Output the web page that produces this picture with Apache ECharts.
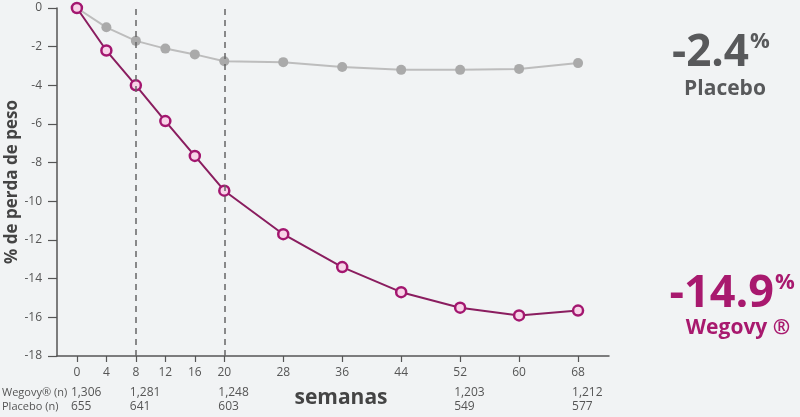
<!DOCTYPE html>
<html>
<head>
<meta charset="utf-8">
<script src="https://cdn.jsdelivr.net/npm/echarts@6/dist/echarts.min.js"></script>
<style>
html,body{margin:0;padding:0;background:#f1f3f4;}
#c{width:800px;height:417px;}
</style>
</head>
<body>
<div id="c"></div>
<script>
var weeks = [0, 4, 8, 12, 16, 20, 28, 36, 44, 52, 60, 68];
var wegovy = [0, -2.2, -4.0, -5.85, -7.65, -9.45, -11.7, -13.4, -14.7, -15.5, -15.9, -15.65];
var placebo = [0, -1.0, -1.7, -2.1, -2.4, -2.75, -2.8, -3.05, -3.2, -3.2, -3.15, -2.85];
var dashedWeeks = [8, 20];
var nWeeks = [0, 8, 20, 52, 68];
var nWegovy = ['1,306', '1,281', '1,248', '1,203', '1,212'];
var nPlacebo = ['655', '641', '603', '549', '577'];
var rowLabels = ['Wegovy® (n)', 'Placebo (n)'];
var yTitle = '% de perda de peso';
var xTitle = 'semanas';
var finalPlacebo = '-2.4';
var finalWegovy = '-14.9';

var FONT = '"Open Sans", sans-serif';
var chart = echarts.init(document.getElementById('c'));

function pairs(ys) { return weeks.map(function (w, i) { return [w, ys[i]]; }); }

var option = {
  backgroundColor: '#f1f3f4',
  animation: false,
  grid: { left: 57, right: 191, top: 8, bottom: 61, containLabel: false, outerBoundsMode: 'none' },
  xAxis: {
    type: 'value', min: -2.7, max: 72.2,
    axisLine: { show: true, onZero: false, lineStyle: { color: '#555', width: 1.5 } },
    axisTick: { show: true, length: 6, lineStyle: { color: '#555', width: 1.2 }, customValues: weeks },
    axisLabel: { color: '#555', fontSize: 12, fontFamily: FONT, margin: 11, customValues: weeks },
    splitLine: { show: false }
  },
  yAxis: {
    type: 'value', min: -18, max: 0, interval: 2,
    axisLine: { show: true, onZero: false, lineStyle: { color: '#555', width: 1.5 } },
    axisTick: { show: true, length: 9, lineStyle: { color: '#555', width: 1.2 } },
    axisLabel: { color: '#555', fontSize: 12, fontFamily: FONT, margin: 15 },
    splitLine: { show: false }
  },
  series: [
    {
      name: 'Placebo', type: 'line', data: pairs(placebo),
      symbol: 'circle', symbolSize: 10,
      lineStyle: { color: '#bdbdbd', width: 2 },
      itemStyle: { color: '#aaaaaa' },
      z: 3,
      markLine: {
        silent: true, symbol: 'none', label: { show: false },
        lineStyle: { color: '#666', type: [6, 5], width: 1.5 },
        data: dashedWeeks.map(function (w) { return { xAxis: w }; })
      }
    },
    {
      name: 'Wegovy', type: 'line', data: pairs(wegovy),
      symbol: 'circle', symbolSize: 10,
      lineStyle: { color: '#8a1d5f', width: 2 },
      itemStyle: { color: '#f8d3e8', borderColor: '#a3166f', borderWidth: 2.5 },
      z: 4
    }
  ]
};
chart.setOption(option);

var g = [];
var rowY = [393, 407];
rowLabels.forEach(function (t, r) {
  g.push({ type: 'text', x: 2, y: rowY[r], style: { text: t, fill: '#555', font: '11px ' + FONT, textAlign: 'left', textVerticalAlign: 'middle' } });
});
nWeeks.forEach(function (w, i) {
  var px = chart.convertToPixel({ xAxisIndex: 0 }, w);
  g.push({ type: 'text', x: px - 6, y: rowY[0], style: { text: nWegovy[i], fill: '#555', font: '12px ' + FONT, textAlign: 'left', textVerticalAlign: 'middle' } });
  g.push({ type: 'text', x: px - 6, y: rowY[1], style: { text: nPlacebo[i], fill: '#555', font: '12px ' + FONT, textAlign: 'left', textVerticalAlign: 'middle' } });
});
g.push({ type: 'text', x: 12, y: 182, rotation: Math.PI / 2, style: { text: yTitle, fill: '#444', font: 'bold 17px ' + FONT, textAlign: 'center', textVerticalAlign: 'middle' } });
g.push({ type: 'text', x: 341, y: 398, style: { text: xTitle, fill: '#444', font: 'bold 21px ' + FONT, textAlign: 'center', textVerticalAlign: 'middle' } });
// Placebo final
g.push({ type: 'text', x: 749, y: 53, style: { text: finalPlacebo, fill: '#58595b', font: 'bold 44px ' + FONT, textAlign: 'right', textVerticalAlign: 'middle' } });
g.push({ type: 'text', x: 750, y: 42, style: { text: '%', fill: '#58595b', font: 'bold 22px ' + FONT, textAlign: 'left', textVerticalAlign: 'middle' } });
g.push({ type: 'text', x: 725, y: 89, style: { text: 'Placebo', fill: '#58595b', font: 'bold 21px ' + FONT, textAlign: 'center', textVerticalAlign: 'middle' } });
// Wegovy final
g.push({ type: 'text', x: 774, y: 294, style: { text: finalWegovy, fill: '#a8196e', font: 'bold 45px ' + FONT, textAlign: 'right', textVerticalAlign: 'middle' } });
g.push({ type: 'text', x: 775, y: 283, style: { text: '%', fill: '#a8196e', font: 'bold 22px ' + FONT, textAlign: 'left', textVerticalAlign: 'middle' } });
g.push({ type: 'text', x: 738, y: 328, style: { text: 'Wegovy ®', fill: '#a8196e', font: 'bold 21px ' + FONT, textAlign: 'center', textVerticalAlign: 'middle' } });

chart.setOption({ graphic: g });
</script>
</body>
</html>
